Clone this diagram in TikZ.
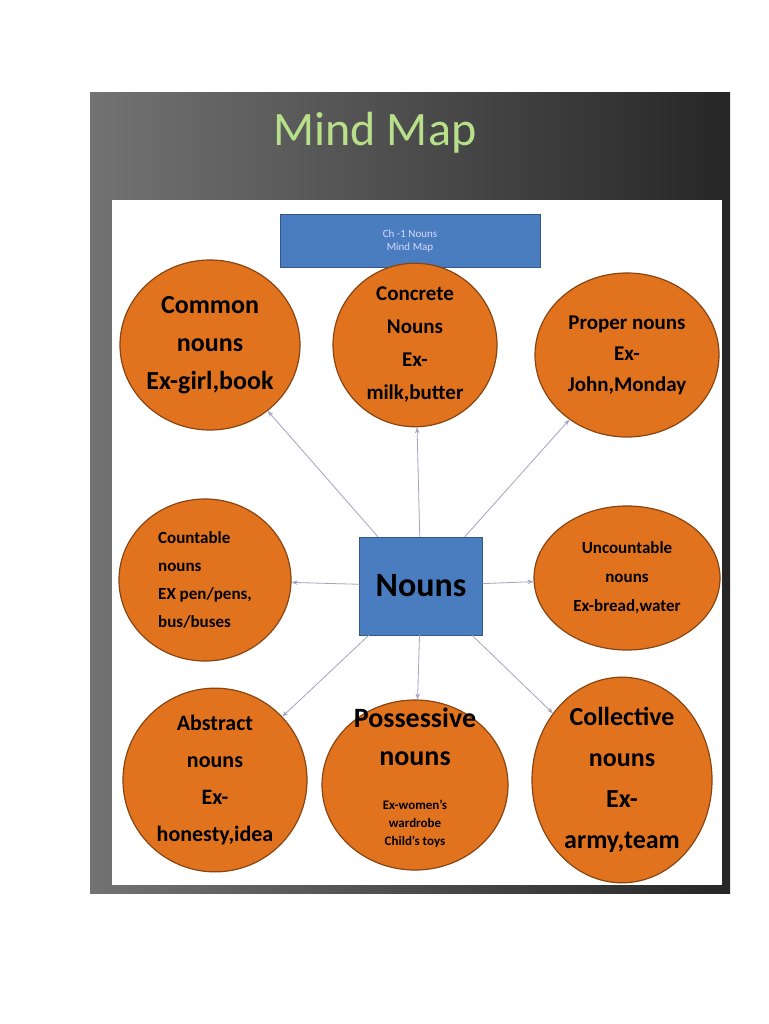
\documentclass[tikz,border=0pt]{standalone}
\usepackage{fontspec}
\setmainfont{Carlito}
\usetikzlibrary{arrows.meta,shapes.geometric}
\definecolor{org}{HTML}{E2731E}
\definecolor{blu}{HTML}{4A7CC0}
\definecolor{ttl}{HTML}{B8E08A}
\tikzset{
 bub/.style={ellipse,draw=org!60!black,line width=1.2pt,fill=org,align=center,font=\bfseries,inner sep=0pt},
 con/.style={draw=blue!20!gray!60,line width=0.8pt,-{Stealth[length=6pt]}}
}
\begin{document}
\begin{tikzpicture}[x=1pt,y=-1pt]
\useasboundingbox (0,0) rectangle (768,1024);
\shade[left color=black!55,right color=black!85] (90,93) rectangle (730,893);
\fill[white] (112,200) rectangle (722,885);
\node (title) at (375,133) {\fontsize{48}{50}\selectfont\color{ttl}Mind Map};
\node[fill=blu,draw=blu!70!black,minimum width=260pt,minimum height=53pt,align=center,font=\fontsize{11}{13}\selectfont\color{white!85!blue}] (hdr) at (410,241) {Ch -1 Nouns\\Mind Map};
\node[fill=blu,draw=blu!70!black,minimum width=123pt,minimum height=98pt,font=\bfseries\fontsize{34}{36}\selectfont] (n) at (421,586) {Nouns};
\node[bub,minimum width=180pt,minimum height=170pt,font=\bfseries\fontsize{26}{38}\selectfont] (common) at (210,345) {Common\\nouns\\Ex-girl,book};
\node[bub,minimum width=164pt,minimum height=150pt,font=\bfseries\fontsize{21}{33}\selectfont] (concrete) at (415,345) {Concrete\\Nouns\\Ex-\\milk,butter};
\node[bub,minimum width=184pt,minimum height=164pt,font=\bfseries\fontsize{21}{31}\selectfont] (proper) at (627,355) {Proper nouns\\Ex-\\John,Monday};
\node[bub,minimum width=172pt,minimum height=162pt,font=\bfseries\fontsize{17}{28}\selectfont,align=left] (count) at (205,580) {Countable\\nouns\\EX pen/pens,\\bus/buses};
\node[bub,minimum width=186pt,minimum height=144pt,font=\bfseries\fontsize{17}{29}\selectfont] (uncount) at (627,578) {Uncountable\\nouns\\Ex-bread,water};
\node[bub,minimum width=184pt,minimum height=176pt,font=\bfseries\fontsize{22}{37}\selectfont] (abs) at (215,780) {Abstract\\nouns\\Ex-\\honesty,idea};
\node[bub,minimum width=186pt,minimum height=170pt] (poss) at (415,785) {};
\node[align=center,anchor=north,font=\bfseries\fontsize{28}{38}\selectfont,inner sep=0pt] (posst) at (415,708) {Possessive\\nouns};
\node[align=center,anchor=north,font=\bfseries\fontsize{13}{18}\selectfont,inner sep=0pt] (possx) at (415,800) {Ex-women's\\wardrobe\\Child's toys};
\node[bub,minimum width=180pt,minimum height=180pt,font=\bfseries\fontsize{26}{41}\selectfont] (coll) at (622,780) {Collective\\nouns\\Ex-\\army,team};
\draw[con] (n) -- (common);
\draw[con] (n) -- (concrete);
\draw[con] (n) -- (proper);
\draw[con] (n) -- (count);
\draw[con] (n) -- (uncount);
\draw[con] (n) -- (abs);
\draw[con] (n) -- (poss);
\draw[con] (n) -- (coll);
\end{tikzpicture}
\end{document}
